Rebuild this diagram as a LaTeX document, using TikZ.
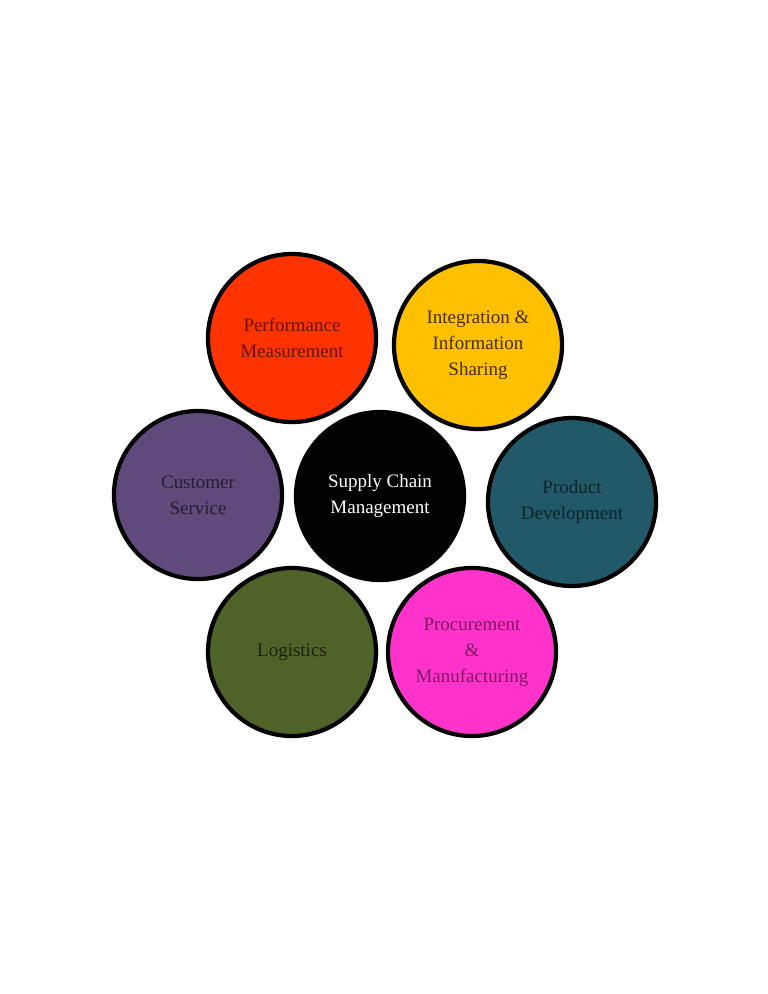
\documentclass[tikz,border=0pt]{standalone}
\usepackage{fontspec}
\setmainfont{Liberation Serif}
\usepackage{tikz}
\usetikzlibrary{positioning}
\definecolor{perfcolor}{RGB}{255, 51, 0}
\definecolor{integcolor}{RGB}{255, 192, 0}
\definecolor{custcolor}{RGB}{96, 74, 123}
\definecolor{prodcolor}{RGB}{33, 89, 104}
\definecolor{logcolor}{RGB}{79, 98, 40}
\definecolor{procolor}{RGB}{255, 51, 204}

\begin{document}
\begin{tikzpicture}[x=0.025cm, y=-0.025cm,
    bubble/.style={circle, draw=black, line width=3pt, minimum size=4.2cm,
      align=center, inner sep=0pt, font=\fontsize{13.5}{18.5}\selectfont}]
    % Page frame
    \useasboundingbox (0, 0) rectangle (768, 994);

    % Core
    \node[bubble, fill=black, text=white] (scm) at (380, 496) {Supply Chain\\Management};

    % Surrounding elements
    \node[bubble, fill=perfcolor, text=perfcolor!40!black] (perf) at (292, 338) {Performance\\Measurement};
    \node[bubble, fill=integcolor, text=integcolor!25!black] (integ) at (478, 345) {Integration \&\\Information\\Sharing};
    \node[bubble, fill=custcolor, text=custcolor!40!black] (cust) at (198, 495) {Customer\\Service};
    \node[bubble, fill=prodcolor, text=prodcolor!40!black] (prod) at (572, 502) {Product\\Development};
    \node[bubble, fill=logcolor, text=logcolor!35!black] (logi) at (292, 652) {Logistics};
    \node[bubble, fill=procolor, text=procolor!50!black] (proc) at (472, 652) {Procurement\\\&\\Manufacturing};

\end{tikzpicture}
\end{document}
